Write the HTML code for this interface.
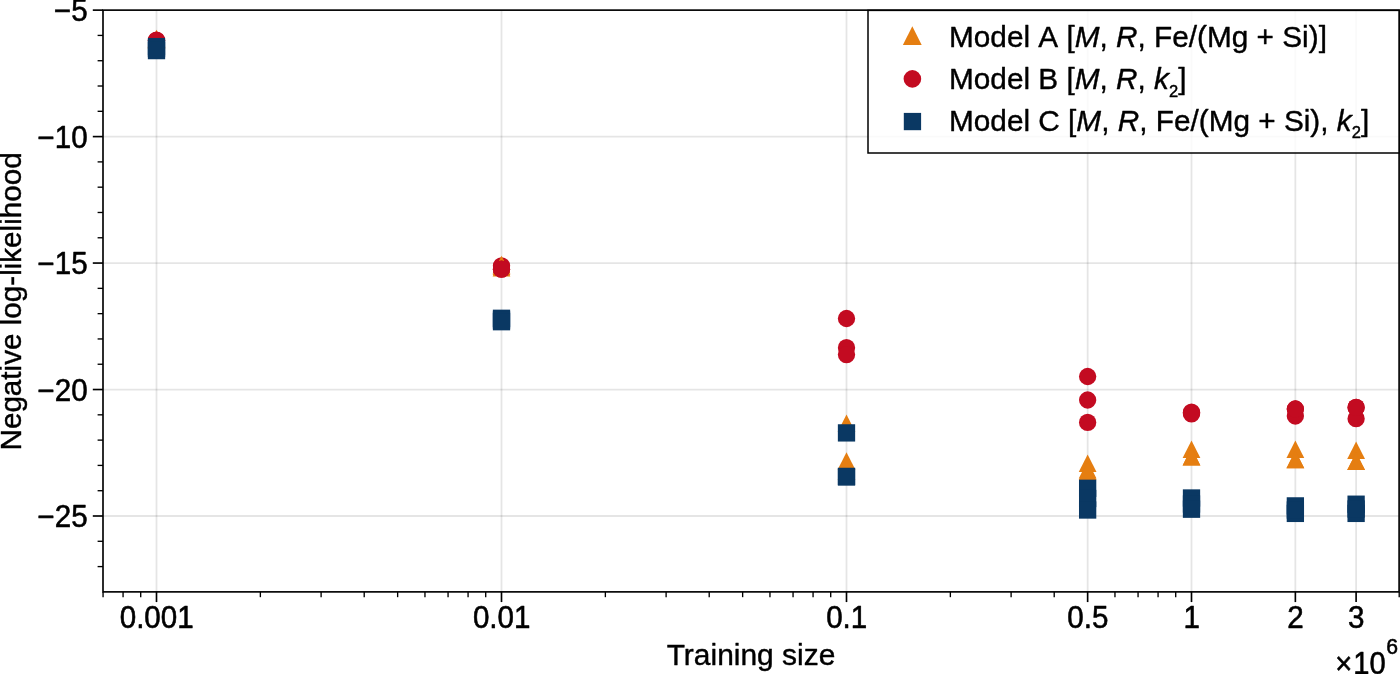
<!DOCTYPE html>
<html lang="en"><head><meta charset="utf-8"><title>Negative log-likelihood vs training size</title>
<style>html,body{margin:0;padding:0;background:#fff;}body{width:1400px;height:674px;overflow:hidden;}svg{display:block;}text{font-family:"Liberation Sans",Arial,Helvetica,sans-serif;fill:#000;font-kerning:none;stroke-linejoin:round;}</style></head><body>
<svg width="1400" height="674" viewBox="0 0 1400 674">
<rect x="0" y="0" width="1400" height="674" fill="#fff"/>
<g stroke="#000" stroke-opacity="0.1" stroke-width="1.8" fill="none">
<line x1="156.50" y1="10.13" x2="156.50" y2="591.88"/>
<line x1="501.50" y1="10.13" x2="501.50" y2="591.88"/>
<line x1="846.50" y1="10.13" x2="846.50" y2="591.88"/>
<line x1="1087.64" y1="10.13" x2="1087.64" y2="591.88"/>
<line x1="1191.50" y1="10.13" x2="1191.50" y2="591.88"/>
<line x1="1295.36" y1="10.13" x2="1295.36" y2="591.88"/>
<line x1="1356.11" y1="10.13" x2="1356.11" y2="591.88"/>
<line x1="103.00" y1="136.60" x2="1399.10" y2="136.60"/>
<line x1="103.00" y1="263.06" x2="1399.10" y2="263.06"/>
<line x1="103.00" y1="389.53" x2="1399.10" y2="389.53"/>
<line x1="103.00" y1="516.00" x2="1399.10" y2="516.00"/>
</g>
<g>
<polygon points="156.50,29.70 147.60,47.30 165.40,47.30" fill="#E57E11"/>
<polygon points="156.50,30.40 147.60,48.00 165.40,48.00" fill="#E57E11"/>
<polygon points="156.50,31.00 147.60,48.60 165.40,48.60" fill="#E57E11"/>
<circle cx="156.50" cy="40.10" r="8.65" fill="#C30B21"/>
<circle cx="156.50" cy="40.50" r="8.65" fill="#C30B21"/>
<circle cx="156.50" cy="40.80" r="8.65" fill="#C30B21"/>
<rect x="147.85" y="37.95" width="17.30" height="17.30" fill="#0A3863"/>
<rect x="147.85" y="39.85" width="17.30" height="17.30" fill="#0A3863"/>
<rect x="147.85" y="41.95" width="17.30" height="17.30" fill="#0A3863"/>
<polygon points="501.50,258.80 492.60,276.40 510.40,276.40" fill="#E57E11"/>
<polygon points="501.50,257.40 492.60,275.00 510.40,275.00" fill="#E57E11"/>
<circle cx="501.50" cy="265.80" r="8.65" fill="#C30B21"/>
<polygon points="501.50,255.80 492.60,273.40 510.40,273.40" fill="#E57E11"/>
<circle cx="501.50" cy="269.20" r="8.65" fill="#C30B21"/>
<circle cx="501.50" cy="269.20" r="8.65" fill="#C30B21"/>
<rect x="492.85" y="309.65" width="17.30" height="17.30" fill="#0A3863"/>
<rect x="492.85" y="311.35" width="17.30" height="17.30" fill="#0A3863"/>
<rect x="492.85" y="313.05" width="17.30" height="17.30" fill="#0A3863"/>
<polygon points="846.50,414.40 837.60,432.00 855.40,432.00" fill="#E57E11"/>
<polygon points="846.50,452.20 837.60,469.80 855.40,469.80" fill="#E57E11"/>
<polygon points="846.50,462.40 837.60,480.00 855.40,480.00" fill="#E57E11"/>
<circle cx="846.50" cy="318.50" r="8.65" fill="#C30B21"/>
<circle cx="846.50" cy="347.70" r="8.65" fill="#C30B21"/>
<circle cx="846.50" cy="354.60" r="8.65" fill="#C30B21"/>
<rect x="837.85" y="424.25" width="17.30" height="17.30" fill="#0A3863"/>
<rect x="837.85" y="467.75" width="17.30" height="17.30" fill="#0A3863"/>
<rect x="837.85" y="468.35" width="17.30" height="17.30" fill="#0A3863"/>
<polygon points="1087.64,454.40 1078.74,472.00 1096.54,472.00" fill="#E57E11"/>
<polygon points="1087.64,461.00 1078.74,478.60 1096.54,478.60" fill="#E57E11"/>
<polygon points="1087.64,462.40 1078.74,480.00 1096.54,480.00" fill="#E57E11"/>
<circle cx="1087.64" cy="376.50" r="8.65" fill="#C30B21"/>
<circle cx="1087.64" cy="400.00" r="8.65" fill="#C30B21"/>
<circle cx="1087.64" cy="422.40" r="8.65" fill="#C30B21"/>
<rect x="1078.99" y="479.65" width="17.30" height="17.30" fill="#0A3863"/>
<rect x="1078.99" y="489.85" width="17.30" height="17.30" fill="#0A3863"/>
<rect x="1078.99" y="501.35" width="17.30" height="17.30" fill="#0A3863"/>
<polygon points="1191.50,440.40 1182.60,458.00 1200.40,458.00" fill="#E57E11"/>
<polygon points="1191.50,447.80 1182.60,465.40 1200.40,465.40" fill="#E57E11"/>
<polygon points="1191.50,447.80 1182.60,465.40 1200.40,465.40" fill="#E57E11"/>
<circle cx="1191.50" cy="412.20" r="8.65" fill="#C30B21"/>
<circle cx="1191.50" cy="413.00" r="8.65" fill="#C30B21"/>
<circle cx="1191.50" cy="413.80" r="8.65" fill="#C30B21"/>
<rect x="1182.85" y="489.35" width="17.30" height="17.30" fill="#0A3863"/>
<rect x="1182.85" y="495.35" width="17.30" height="17.30" fill="#0A3863"/>
<rect x="1182.85" y="500.55" width="17.30" height="17.30" fill="#0A3863"/>
<polygon points="1295.36,440.40 1286.46,458.00 1304.26,458.00" fill="#E57E11"/>
<polygon points="1295.36,450.70 1286.46,468.30 1304.26,468.30" fill="#E57E11"/>
<polygon points="1295.36,450.70 1286.46,468.30 1304.26,468.30" fill="#E57E11"/>
<circle cx="1295.36" cy="409.00" r="8.65" fill="#C30B21"/>
<circle cx="1295.36" cy="416.00" r="8.65" fill="#C30B21"/>
<circle cx="1295.36" cy="409.00" r="8.65" fill="#C30B21"/>
<rect x="1286.71" y="497.25" width="17.30" height="17.30" fill="#0A3863"/>
<rect x="1286.71" y="504.75" width="17.30" height="17.30" fill="#0A3863"/>
<rect x="1286.71" y="501.35" width="17.30" height="17.30" fill="#0A3863"/>
<polygon points="1356.11,441.40 1347.21,459.00 1365.01,459.00" fill="#E57E11"/>
<polygon points="1356.11,452.40 1347.21,470.00 1365.01,470.00" fill="#E57E11"/>
<polygon points="1356.11,452.40 1347.21,470.00 1365.01,470.00" fill="#E57E11"/>
<circle cx="1356.11" cy="407.40" r="8.65" fill="#C30B21"/>
<circle cx="1356.11" cy="418.70" r="8.65" fill="#C30B21"/>
<circle cx="1356.11" cy="407.40" r="8.65" fill="#C30B21"/>
<rect x="1347.46" y="495.55" width="17.30" height="17.30" fill="#0A3863"/>
<rect x="1347.46" y="504.75" width="17.30" height="17.30" fill="#0A3863"/>
<rect x="1347.46" y="500.35" width="17.30" height="17.30" fill="#0A3863"/>
</g>
<g stroke="#000" fill="none">
<line x1="156.50" y1="591.88" x2="156.50" y2="602.08" stroke-width="1.65"/>
<line x1="501.50" y1="591.88" x2="501.50" y2="602.08" stroke-width="1.65"/>
<line x1="846.50" y1="591.88" x2="846.50" y2="602.08" stroke-width="1.65"/>
<line x1="1087.64" y1="591.88" x2="1087.64" y2="602.08" stroke-width="1.65"/>
<line x1="1191.50" y1="591.88" x2="1191.50" y2="602.08" stroke-width="1.65"/>
<line x1="1295.36" y1="591.88" x2="1295.36" y2="602.08" stroke-width="1.65"/>
<line x1="1356.11" y1="591.88" x2="1356.11" y2="602.08" stroke-width="1.65"/>
<line x1="103.06" y1="591.88" x2="103.06" y2="597.18" stroke-width="1.35"/>
<line x1="123.07" y1="591.88" x2="123.07" y2="597.18" stroke-width="1.35"/>
<line x1="140.71" y1="591.88" x2="140.71" y2="597.18" stroke-width="1.35"/>
<line x1="260.36" y1="591.88" x2="260.36" y2="597.18" stroke-width="1.35"/>
<line x1="321.11" y1="591.88" x2="321.11" y2="597.18" stroke-width="1.35"/>
<line x1="364.21" y1="591.88" x2="364.21" y2="597.18" stroke-width="1.35"/>
<line x1="397.64" y1="591.88" x2="397.64" y2="597.18" stroke-width="1.35"/>
<line x1="424.96" y1="591.88" x2="424.96" y2="597.18" stroke-width="1.35"/>
<line x1="448.06" y1="591.88" x2="448.06" y2="597.18" stroke-width="1.35"/>
<line x1="468.07" y1="591.88" x2="468.07" y2="597.18" stroke-width="1.35"/>
<line x1="485.71" y1="591.88" x2="485.71" y2="597.18" stroke-width="1.35"/>
<line x1="605.36" y1="591.88" x2="605.36" y2="597.18" stroke-width="1.35"/>
<line x1="666.11" y1="591.88" x2="666.11" y2="597.18" stroke-width="1.35"/>
<line x1="709.21" y1="591.88" x2="709.21" y2="597.18" stroke-width="1.35"/>
<line x1="742.64" y1="591.88" x2="742.64" y2="597.18" stroke-width="1.35"/>
<line x1="769.96" y1="591.88" x2="769.96" y2="597.18" stroke-width="1.35"/>
<line x1="793.06" y1="591.88" x2="793.06" y2="597.18" stroke-width="1.35"/>
<line x1="813.07" y1="591.88" x2="813.07" y2="597.18" stroke-width="1.35"/>
<line x1="830.71" y1="591.88" x2="830.71" y2="597.18" stroke-width="1.35"/>
<line x1="950.36" y1="591.88" x2="950.36" y2="597.18" stroke-width="1.35"/>
<line x1="1011.11" y1="591.88" x2="1011.11" y2="597.18" stroke-width="1.35"/>
<line x1="1054.21" y1="591.88" x2="1054.21" y2="597.18" stroke-width="1.35"/>
<line x1="1114.96" y1="591.88" x2="1114.96" y2="597.18" stroke-width="1.35"/>
<line x1="1138.06" y1="591.88" x2="1138.06" y2="597.18" stroke-width="1.35"/>
<line x1="1158.07" y1="591.88" x2="1158.07" y2="597.18" stroke-width="1.35"/>
<line x1="1175.71" y1="591.88" x2="1175.71" y2="597.18" stroke-width="1.35"/>
<line x1="1399.21" y1="591.88" x2="1399.21" y2="597.18" stroke-width="1.35"/>
<line x1="97.60" y1="566.59" x2="103.00" y2="566.59" stroke-width="1.35"/>
<line x1="97.60" y1="541.29" x2="103.00" y2="541.29" stroke-width="1.35"/>
<line x1="92.80" y1="516.00" x2="103.00" y2="516.00" stroke-width="1.65"/>
<line x1="97.60" y1="490.71" x2="103.00" y2="490.71" stroke-width="1.35"/>
<line x1="97.60" y1="465.41" x2="103.00" y2="465.41" stroke-width="1.35"/>
<line x1="97.60" y1="440.12" x2="103.00" y2="440.12" stroke-width="1.35"/>
<line x1="97.60" y1="414.83" x2="103.00" y2="414.83" stroke-width="1.35"/>
<line x1="92.80" y1="389.53" x2="103.00" y2="389.53" stroke-width="1.65"/>
<line x1="97.60" y1="364.24" x2="103.00" y2="364.24" stroke-width="1.35"/>
<line x1="97.60" y1="338.95" x2="103.00" y2="338.95" stroke-width="1.35"/>
<line x1="97.60" y1="313.65" x2="103.00" y2="313.65" stroke-width="1.35"/>
<line x1="97.60" y1="288.36" x2="103.00" y2="288.36" stroke-width="1.35"/>
<line x1="92.80" y1="263.06" x2="103.00" y2="263.06" stroke-width="1.65"/>
<line x1="97.60" y1="237.77" x2="103.00" y2="237.77" stroke-width="1.35"/>
<line x1="97.60" y1="212.48" x2="103.00" y2="212.48" stroke-width="1.35"/>
<line x1="97.60" y1="187.18" x2="103.00" y2="187.18" stroke-width="1.35"/>
<line x1="97.60" y1="161.89" x2="103.00" y2="161.89" stroke-width="1.35"/>
<line x1="92.80" y1="136.60" x2="103.00" y2="136.60" stroke-width="1.65"/>
<line x1="97.60" y1="111.30" x2="103.00" y2="111.30" stroke-width="1.35"/>
<line x1="97.60" y1="86.01" x2="103.00" y2="86.01" stroke-width="1.35"/>
<line x1="97.60" y1="60.72" x2="103.00" y2="60.72" stroke-width="1.35"/>
<line x1="97.60" y1="35.42" x2="103.00" y2="35.42" stroke-width="1.35"/>
<line x1="92.80" y1="10.13" x2="103.00" y2="10.13" stroke-width="1.65"/>
</g>
<rect x="103.00" y="10.13" width="1296.10" height="581.75" fill="none" stroke="#000" stroke-width="1.65"/>
<text transform="translate(156.70,628.30) scale(1.0000,1.0400)" font-size="29.60" text-anchor="middle" stroke="#000" stroke-width="0.55">0.001</text>
<text transform="translate(501.70,628.30) scale(1.0000,1.0400)" font-size="29.60" text-anchor="middle" stroke="#000" stroke-width="0.55">0.01</text>
<text transform="translate(846.70,628.30) scale(1.0000,1.0400)" font-size="29.60" text-anchor="middle" stroke="#000" stroke-width="0.55">0.1</text>
<text transform="translate(1087.84,628.30) scale(1.0000,1.0400)" font-size="29.60" text-anchor="middle" stroke="#000" stroke-width="0.55">0.5</text>
<text transform="translate(1191.70,628.30) scale(1.0000,1.0400)" font-size="29.60" text-anchor="middle" stroke="#000" stroke-width="0.55">1</text>
<text transform="translate(1295.56,628.30) scale(1.0000,1.0400)" font-size="29.60" text-anchor="middle" stroke="#000" stroke-width="0.55">2</text>
<text transform="translate(1356.31,628.30) scale(1.0000,1.0400)" font-size="29.60" text-anchor="middle" stroke="#000" stroke-width="0.55">3</text>
<text transform="translate(87.70,21.33) scale(1.0000,1.0400)" font-size="29.60" text-anchor="end" stroke="#000" stroke-width="0.55">−5</text>
<text transform="translate(87.70,147.80) scale(1.0000,1.0400)" font-size="29.60" text-anchor="end" stroke="#000" stroke-width="0.55">−10</text>
<text transform="translate(87.70,274.26) scale(1.0000,1.0400)" font-size="29.60" text-anchor="end" stroke="#000" stroke-width="0.55">−15</text>
<text transform="translate(87.70,400.73) scale(1.0000,1.0400)" font-size="29.60" text-anchor="end" stroke="#000" stroke-width="0.55">−20</text>
<text transform="translate(87.70,527.20) scale(1.0000,1.0400)" font-size="29.60" text-anchor="end" stroke="#000" stroke-width="0.55">−25</text>
<text transform="translate(751.00,664.90) scale(1.0120,1.0000)" font-size="29.60" text-anchor="middle" stroke="#000" stroke-width="0.40" style="font-kerning:normal">Training size</text>
<text transform="translate(21.30,301.40) rotate(-90) scale(1.0020,1.0200)" font-size="29.60" text-anchor="middle" stroke="#000" stroke-width="0.40">Negative log-likelihood</text>
<text transform="translate(1335.30,673.90) scale(0.9850,1.0400)" font-size="29.60" text-anchor="start" stroke="#000" stroke-width="0.55">×<tspan dx="1">10</tspan><tspan dx="0.6" dy="-19.4" font-size="21.5">6</tspan></text>
<rect x="868.00" y="10.38" width="531.10" height="142.62" fill="#fff" fill-opacity="0.8" stroke="#000" stroke-width="1.5"/>
<polygon points="912.3,26.3 902.9,44.9 921.7,44.9" fill="#E57E11"/>
<circle cx="912.4" cy="78.9" r="8.8" fill="#C30B21"/>
<rect x="903.8" y="112.9" width="17.3" height="17.3" fill="#0A3863"/>
<text transform="translate(949.00,46.70) scale(1.0060,1.0000)" font-size="29.60" text-anchor="start" stroke="#000" stroke-width="0.40">Model A [<tspan font-style="italic">M</tspan>, <tspan font-style="italic">R</tspan>, Fe/(Mg + Si)]</text>
<text transform="translate(949.00,89.10) scale(1.0060,1.0000)" font-size="29.60" text-anchor="start" stroke="#000" stroke-width="0.40">Model B [<tspan font-style="italic">M</tspan>, <tspan font-style="italic">R</tspan>, <tspan font-style="italic">k</tspan><tspan dy="7.5" font-size="16.5">2</tspan><tspan dy="-7.5">]</tspan></text>
<text transform="translate(949.00,130.90) scale(1.0060,1.0000)" font-size="29.60" text-anchor="start" stroke="#000" stroke-width="0.40">Model C [<tspan font-style="italic">M</tspan>, <tspan font-style="italic">R</tspan>, Fe/(Mg + Si), <tspan font-style="italic">k</tspan><tspan dy="7.5" font-size="16.5">2</tspan><tspan dy="-7.5">]</tspan></text>
</svg></body></html>
